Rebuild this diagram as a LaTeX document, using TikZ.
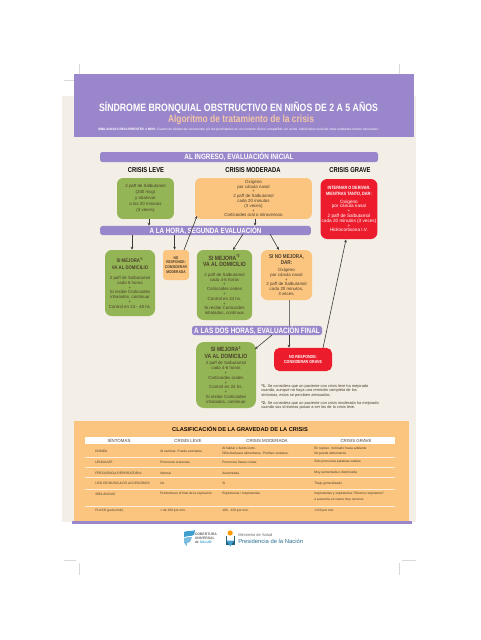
\documentclass[tikz,border=0pt]{standalone}
\usepackage{fontspec}
\setmainfont{Liberation Sans}
\newfontfamily\narrowb[FakeStretch=0.82]{Liberation Sans Bold}
\usetikzlibrary{arrows.meta}
\definecolor{purp}{HTML}{9A87CB}
\definecolor{cream}{HTML}{F3EEE6}
\definecolor{grn}{HTML}{94B556}
\definecolor{ora}{HTML}{FBC47F}
\definecolor{redb}{HTML}{EC1C2C}
\definecolor{txt}{HTML}{4A3F2A}
\definecolor{pinkt}{HTML}{F5C6A5}
\definecolor{line}{HTML}{3A3A3A}
\definecolor{blu}{HTML}{3FA0D0}
\newcommand{\hdl}[1]{{\fontsize{4.6pt}{3.6pt}\narrowb #1}}
\newcommand{\hds}[1]{{\fontsize{3.9pt}{3.6pt}\narrowb #1}}
\newcommand{\hdm}[1]{{\fontsize{4.2pt}{3.6pt}\narrowb #1}}
\newcommand{\hdr}[1]{{\fontsize{3.5pt}{3.6pt}\narrowb #1}}
\tikzset{
 x=0.75pt,y=-0.75pt,
 panel/.style={rounded corners=4.5pt,inner sep=0pt,align=center,text=txt,font=\fontsize{3.3pt}{3.6pt}\selectfont},
 bar/.style={fill=purp,rounded corners=1.8pt,inner sep=0pt,text=white,align=center},
 arr/.style={draw=line,line width=.45pt,-{Stealth[length=2.2pt,width=2pt]}},
 crisis/.style={font=\fontsize{5.3pt}{6pt}\narrowb,text=black!85!txt},
 cell/.style={anchor=west,inner sep=0pt,align=left,text=txt,font=\fontsize{2.45pt}{3.6pt}\selectfont},
 hcell/.style={inner sep=0pt,text=txt,font=\fontsize{3.3pt}{4pt}\selectfont},
 note/.style={anchor=north west,inner sep=0pt,align=left,text=txt,font=\fontsize{2.95pt}{3.5pt}\selectfont},
 rowline/.style={draw=white!70!ora,line width=.5pt},
 crop/.style={draw=black!15,line width=.3pt}
}
\begin{document}
\begin{tikzpicture}
\useasboundingbox (0,0) rectangle (480,640);
\fill[white] (0,0) rectangle (480,640);
% crop marks
\draw[crop] (79,64)--(79,74) (64,80)--(74,80) (399,64)--(399,74)
 (79,563)--(79,575) (64,560)--(76,560) (399,563)--(399,575) (402,560)--(416,560);
\fill[cream] (62,96) rectangle (416,522);
\fill[purp] (74,74) rectangle (414,137);
\node[font=\fontsize{8pt}{9pt}\narrowb,text=white,inner sep=0] at (238.5,107.5) {SÍNDROME BRONQUIAL OBSTRUCTIVO EN NIÑOS DE 2 A 5 AÑOS};
\node[font=\fontsize{7.7pt}{8pt}\narrowb,text=pinkt,inner sep=0] at (241,120) {Algoritmo de tratamiento de la crisis};
\node[font=\fontsize{2.42pt}{3pt}\selectfont,text=white,inner sep=0] at (238.5,130) {\textbf{SIBILANCIAS RECURRENTES o BOR:} Cuadro de sibilancias recurrentes y/o tos persistentes en un contexto clínico compatible con asma, habiéndose excluido otras entidades menos frecuentes.};
% bars
\node[bar,minimum width=208.5pt,minimum height=7.5pt,font=\fontsize{5.8pt}{5pt}\narrowb] (b1) at (239,157) {AL INGRESO, EVALUACIÓN INICIAL};
\node[bar,minimum width=158pt,minimum height=6.8pt,font=\fontsize{5.7pt}{6pt}\narrowb] (b2) at (205.5,230.5) {A LA HORA, SEGUNDA EVALUACIÓN};
\node[bar,minimum width=97.5pt,minimum height=6.8pt,font=\fontsize{5.85pt}{6pt}\narrowb] (b3) at (257,330.5) {A LAS DOS HORAS, EVALUACIÓN FINAL};
% headers
\node[crisis] at (146,170) {CRISIS LEVE};
\node[crisis] at (253,170) {CRISIS MODERADA};
\node[crisis] at (350,170) {CRISIS GRAVE};
% first row
\node[panel,fill=grn,minimum width=42.7pt,minimum height=30.7pt] (g0) at (145.5,198.5) {2 paff de Salbutamol\\[.8pt](200 mcg)\\[.8pt]y observar\\[.8pt]a los 20 minutos\\[.8pt](3 veces)};
\node[panel,fill=ora,minimum width=87.7pt,minimum height=30.7pt] (o0) at (253.5,198.5) {Oxígeno\\por cánula nasal\\+\\2 paff de Salbutamol\\cada 20 minutos\\(3 veces)\\+\\Corticoides oral o intravenoso};
\node[panel,fill=redb,text=white,minimum width=42.7pt,minimum height=45pt,rounded corners=5pt,font=\fontsize{3.5pt}{3.6pt}\selectfont] (r0) at (349,209) {\hdr{INTERNAR O DERIVAR.}\\[1pt]\hdr{MIENTRAS TANTO, DAR:}\\[2pt]Oxígeno\\por cánula nasal\\+\\2 paff de Salbutamol\\cada 20 minutos (3 veces)\\+\\Hidrocortisona I.V.};
% second row
\node[panel,fill=grn,minimum width=37.5pt,minimum height=49.5pt,rounded corners=5pt] (g1) at (130,283) {\hds{SI MEJORA\textsuperscript{*1}}\\[1.1pt]\hds{VA AL DOMICILIO}\\[4.1pt]2 paff de Salbutamol\\cada 6 horas\\+\\Si recibe Corticoides\\inhalados, continuar\\+\\Control en 24 - 48 hs.};
\node[panel,fill=ora,minimum width=19.5pt,minimum height=22.5pt,rounded corners=2.5pt,font=\fontsize{3pt}{3.6pt}\narrowb] (o1) at (176,265) {NO\\RESPONDE:\\CONSIDERAR\\MODERADA};
\node[panel,fill=grn,minimum width=41.5pt,minimum height=52.5pt,rounded corners=5pt] (g2) at (224.5,285) {\hdl{SI MEJORA\textsuperscript{*2}}\\[1.1pt]\hdl{VA AL DOMICILIO}\\[3.6pt]2 paff de Salbutamol\\cada 4-6 horas\\+\\Corticoides orales\\+\\Control en 24 hs.\\+\\Si recibe Corticoides\\inhalados, continuar};
\node[panel,fill=ora,minimum width=38.5pt,minimum height=37.5pt,rounded corners=5pt] (o2) at (286.5,275) {\hdm{SI NO MEJORA,}\\[1.1pt]\hdm{DAR:}\\[1.6pt]Oxígeno\\por cánula nasal\\+\\2 paff de Salbutamol\\cada 20 minutos,\\3 veces.};
% third row
\node[panel,fill=grn,minimum width=45pt,minimum height=49.5pt,rounded corners=6pt] (g3) at (226,375) {\hdl{SI MEJORA\textsuperscript{2}}\\[1.1pt]\hdl{VA AL DOMICILIO}\\[1.6pt]2 paff de Salbutamol\\cada 4-6 horas\\+\\Corticoides orales\\+\\Control en 24 hs.\\+\\Si recibe Corticoides\\inhalados, continuar};
\node[panel,fill=redb,text=white,minimum width=43.5pt,minimum height=17.3pt,rounded corners=4pt,font=\fontsize{3.3pt}{4.4pt}\narrowb] (r1) at (303,359.5) {NO RESPONDE:\\CONSIDERAR GRAVE};
% connectors
\draw[arr] (g0.south) ++(3.5,0) coordinate (a1) -- (a1 |- b2.north);
\draw[arr] (o0.south) ++(1.5,0) coordinate (a2) -- (a2 |- b2.north);
\coordinate (c1) at (132,235);
\draw[arr] (c1) -- (c1 |- g1.north);
\coordinate (c2) at (174.6,235);
\draw[arr] (c2) -- (c2 |- o1.north);
\coordinate (c3) at (184,250);\coordinate (c4) at (197,216);
\draw[arr] (c3) -- (c4);
\coordinate (c5) at (243,234);\coordinate (c6) at (233,250);
\draw[arr] (c5) -- (c6);
\coordinate (c7) at (270,234);\coordinate (c8) at (279,250);
\draw[arr] (c7) -- (c8);
\coordinate (c9) at (289,300);
\draw[draw=black!55,line width=.7pt] (c9) -- (c9 |- b3.north);
\coordinate (c10) at (289,335);
\draw[arr] (c10) -- (c10 |- r1.north);
\coordinate (c11) at (272,335);\coordinate (c12) at (255,349);
\draw[arr] (c11) -- (c12);
\coordinate (c13) at (323,348);\coordinate (c14) at (346,239.5);
\draw[arr] (c13) -- (c14);
% notes
\node[note] at (261,384) {\textbf{*1.} Se considera que un paciente con crisis leve ha mejorado\\cuando, aunque no haya una remisión completa de los\\síntomas, estos se perciben atenuados.};
\node[note] at (261,401) {\textbf{*2.} Se considera que un paciente con crisis moderada ha mejorado\\cuando sus síntomas pasan a ser los de la crisis leve.};
% table
\fill[ora] (74,421) rectangle (409,521);
\fill[purp] (72,521) rectangle (412,524);
\node[font=\fontsize{4.25pt}{6pt}\selectfont\bfseries,text=black!85!txt,inner sep=0] at (240,429) {CLASIFICACIÓN DE LA GRAVEDAD DE LA CRISIS};
\fill[white] (85,437) rectangle (395,444);
\node[hcell] at (119,440.5) {SÍNTOMAS};
\node[hcell] at (188,440.5) {CRISIS LEVE};
\node[hcell] at (267,440.5) {CRISIS MODERADA};
\node[hcell] at (356,440.5) {CRISIS GRAVE};
\foreach \yy in {457,467,477,489,506} \draw[rowline] (85,\yy) -- (395,\yy);
\node[cell] at (95,451) {DISNEA};
\node[cell] at (160,451) {Al caminar. Puede acostarse};
\node[cell] at (222,451) {Al hablar o llanto corto.\\Dificultad para alimentarse. Prefiere sentarse.};
\node[cell] at (314,451) {En reposo. Inclinado hacia adelante\\No puede alimentarse};
\node[cell] at (95,462) {LENGUAJE};
\node[cell] at (160,462) {Pronuncia oraciones};
\node[cell] at (222,462) {Pronuncia frases cortas};
\node[cell] at (314,462) {Sólo pronuncia palabras sueltas};
\node[cell] at (95,473) {FRECUENCIA RESPIRATORIA};
\node[cell] at (160,473) {Normal};
\node[cell] at (222,473) {Aumentada};
\node[cell] at (314,473) {Muy aumentada o disminuida};
\node[cell] at (95,483.5) {USO DE MÚSCULOS ACCESORIOS};
\node[cell] at (160,483.5) {No};
\node[cell] at (222,483.5) {Sí};
\node[cell] at (314,483.5) {Tiraje generalizado};
\node[cell] at (95,494) {SIBILANCIAS};
\node[cell] at (160,494) {Predominan al final de la espiración};
\node[cell] at (222,494) {Espiratorias / Inspiratorias};
\node[cell] at (314,497) {Inspiratorias y espiratorias "Silencio respiratorio"\\[1pt]o ausencia en casos muy severos};
\node[cell] at (95,510.5) {PULSO (pulso/min)};
\node[cell] at (160,510.5) {< de 100 por min.};
\node[cell] at (222,510.5) {100 - 120 por min.};
\node[cell] at (314,510.5) {>120 por min.};
% logos
\fill[blu] (184,532) .. controls (188,530) and (192,532) .. (195,530) -- (194,535) .. controls (190,537) and (187,535) .. (184,537) -- cycle;
\fill[blu!70] (184,538) .. controls (187,536) and (190,538) .. (192,537) -- (190,542) .. controls (188,543) and (186,542) .. (187,546) .. controls (184,544) and (183,541) .. (184,538) -- cycle;
\node[inner sep=0,align=left,anchor=west,text=black!60,font=\fontsize{2.6pt}{3pt}\selectfont\bfseries] at (194.5,538) {COBERTURA\\UNIVERSAL\\de \textcolor{blu}{SALUD}};
\fill[blu!60!black] (225.5,536) rectangle (235,545);
\fill[white] (226.5,536) rectangle (234,540.5);
\fill[blu] (226.5,540.5) -- (234,540.5) -- (230.2,546.5) -- cycle;
\fill[orange!80!yellow] (230.2,533) circle (2.6);
\node[inner sep=0,anchor=west,text=black!60,font=\fontsize{3pt}{3.5pt}\selectfont] at (238,535.5) {Ministerio de Salud};
\node[inner sep=0,anchor=west,text=blu!70!black,font=\fontsize{4.4pt}{5pt}\selectfont] at (238,541) {Presidencia de la Nación};
\end{tikzpicture}
\end{document}
